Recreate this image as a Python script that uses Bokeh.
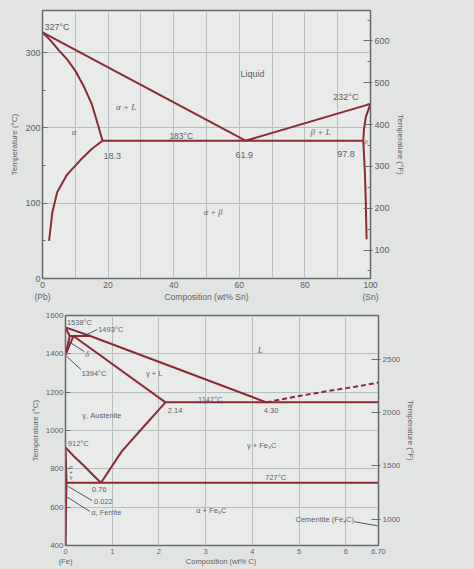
from bokeh.plotting import figure
from bokeh.models import Range1d, LinearAxis, FixedTicker, Label
from bokeh.embed import file_html
from bokeh.resources import INLINE

# ---------------- Pb-Sn diagram data (wt% Sn, deg C) ----------------
pbsn_liq_left_x = [0, 61.9]
pbsn_liq_left_t = [327, 183]
pbsn_liq_right_x = [61.9, 100]
pbsn_liq_right_t = [183, 232]
pbsn_a_solidus_x = [0, 2.5, 5, 7.5, 10, 12.5, 15, 17, 18.3]
pbsn_a_solidus_t = [327, 316, 303, 291, 276, 256, 232, 203, 183]
pbsn_a_solvus_x = [18.3, 15, 11.5, 7.5, 4.5, 3, 2]
pbsn_a_solvus_t = [183, 172, 157, 138, 115, 88, 50]
pbsn_b_solidus_x = [100, 98.6, 98.0, 97.8]
pbsn_b_solidus_t = [232, 215, 198, 183]
pbsn_b_solvus_x = [97.8, 98.3, 98.6, 98.8]
pbsn_b_solvus_t = [183, 140, 95, 52]
pbsn_eut_x = [18.3, 97.8]
pbsn_eut_t = [183, 183]
pbsn_xticks = [0, 20, 40, 60, 80, 100]
pbsn_cticks = [0, 100, 200, 300]
pbsn_fticks = [100, 200, 300, 400, 500, 600]

# ---------------- Fe-Fe3C diagram data (wt% C, deg C) ----------------
fec_liq_x = [0, 0.53, 4.30]
fec_liq_t = [1538, 1493, 1147]
fec_liq_dash_x = [4.30, 5.0, 5.6, 6.2, 6.70]
fec_liq_dash_t = [1147, 1180, 1205, 1228, 1250]
fec_delta_x = [0, 0.09]
fec_delta_t = [1538, 1493]
fec_perit_x = [0.09, 0.53]
fec_perit_t = [1493, 1493]
fec_g_solidus_x = [0.17, 2.14]
fec_g_solidus_t = [1493, 1147]
fec_dg1_x = [0, 0.09]
fec_dg1_t = [1394, 1493]
fec_dg2_x = [0, 0.17]
fec_dg2_t = [1394, 1493]
fec_eut_x = [2.14, 6.70]
fec_eut_t = [1147, 1147]
fec_acm_x = [2.14, 1.6, 1.2, 0.76]
fec_acm_t = [1147, 1000, 890, 727]
fec_a3_x = [0, 0.2, 0.4, 0.6, 0.76]
fec_a3_t = [912, 860, 815, 765, 727]
fec_alpha_x = [0, 0.022]
fec_alpha_t = [912, 727]
fec_a_solvus_x = [0.022, 0.01, 0.003]
fec_a_solvus_t = [727, 600, 400]
fec_eutd_x = [0.022, 6.70]
fec_eutd_t = [727, 727]
fec_xticks = [0, 1, 2, 3, 4, 5, 6, 6.7]
fec_cticks = [400, 600, 800, 1000, 1200, 1400, 1600]
fec_fticks = [1000, 1500, 2000, 2500]

RED = "#8a2a33"
PAGE_BG = "#e2e4e4"
PLOT_BG = "#e9ebeb"
GRID = "#b9bdbd"
FRAME = "#666a6c"
TXT = "#5c5f60"
LEAD = "#4e5560"
SANS = "Liberation Sans"
SERIF = "Liberation Serif"


def c2f(c):
    return c * 1.8 + 32


def style_axis(ax, size):
    ax.axis_line_color = FRAME
    ax.major_tick_line_color = FRAME
    ax.minor_tick_line_color = FRAME
    ax.major_tick_in = 5
    ax.major_tick_out = 0
    ax.minor_tick_in = 3
    ax.minor_tick_out = 0
    ax.major_label_text_font = SANS
    ax.major_label_text_font_size = size
    ax.major_label_text_color = TXT
    ax.major_label_standoff = 2
    ax.axis_label_text_font = SANS
    ax.axis_label_text_font_size = "8px"
    ax.axis_label_text_font_style = "normal"
    ax.axis_label_text_color = TXT
    ax.axis_label_standoff = 3


def lab(p, x, y, text, size="9px", italic=False, serif=False, align="center", color=TXT):
    p.add_layout(Label(x=x, y=y, text=text, text_font=SERIF if serif else SANS,
                       text_font_size=size,
                       text_font_style="italic" if italic else "normal",
                       text_align=align, text_baseline="middle", text_color=color))


def base(p):
    p.background_fill_color = PLOT_BG
    p.border_fill_color = PAGE_BG
    p.outline_line_color = FRAME
    p.outline_line_width = 1.5
    p.grid.grid_line_color = GRID
    p.grid.grid_line_width = 1


# ===================== TOP: Pb-Sn =====================
T_MAX = 356
p1 = figure(width=474, height=304, x_range=Range1d(0, 100), y_range=Range1d(0, T_MAX),
            output_backend="svg", toolbar_location=None,
            min_border_left=42, min_border_right=104, min_border_top=10, min_border_bottom=26)
base(p1)
p1.xgrid.ticker = FixedTicker(ticks=list(range(10, 100, 10)))
p1.ygrid.ticker = FixedTicker(ticks=[100, 200, 300])
xt1 = pbsn_xticks + [50]
p1.xaxis.ticker = FixedTicker(ticks=sorted(xt1))
p1.xaxis.major_label_overrides = {0: "0\n(Pb)", 50: "\nComposition (wt% Sn)", 100: "100\n(Sn)"}
p1.yaxis.ticker = FixedTicker(ticks=pbsn_cticks, minor_ticks=[50, 150, 250])
p1.yaxis.axis_label = "Temperature (°C)"
style_axis(p1.xaxis[0], "8.5px")
style_axis(p1.yaxis[0], "9px")
p1.xaxis.major_tick_in = 0
p1.xaxis.major_label_standoff = 1
p1.extra_y_ranges = {"F": Range1d(c2f(0), c2f(T_MAX))}
ax1r = LinearAxis(y_range_name="F", axis_label="Temperature (°F)",
                  ticker=FixedTicker(ticks=pbsn_fticks, minor_ticks=[50, 150, 250, 350, 450, 550, 650]))
style_axis(ax1r, "9px")
ax1r.major_tick_in = 7
ax1r.major_tick_out = 2
p1.add_layout(ax1r, "right")

for xs, ts in [(pbsn_liq_left_x, pbsn_liq_left_t), (pbsn_liq_right_x, pbsn_liq_right_t),
               (pbsn_a_solidus_x, pbsn_a_solidus_t), (pbsn_a_solvus_x, pbsn_a_solvus_t),
               (pbsn_b_solidus_x, pbsn_b_solidus_t), (pbsn_b_solvus_x, pbsn_b_solvus_t),
               (pbsn_eut_x, pbsn_eut_t)]:
    p1.line(xs, ts, line_color=RED, line_width=2)

lab(p1, 0.6, 334, "327°C", align="left")
lab(p1, 64, 272, "Liquid")
lab(p1, 92.5, 241, "232°C")
lab(p1, 25.5, 228, "α + L", italic=True, serif=True)
lab(p1, 9.6, 195, "α", italic=True, serif=True)
lab(p1, 42.3, 189, "183°C", size="8.5px")
lab(p1, 84.8, 195, "β + L", italic=True, serif=True)
lab(p1, 98.6, 181, "β", size="7px", italic=True, serif=True)
lab(p1, 21.3, 163, "18.3")
lab(p1, 61.5, 164, "61.9")
lab(p1, 92.5, 165, "97.8")
lab(p1, 52, 89, "α + β", size="8.5px", italic=True, serif=True)

# ===================== BOTTOM: Fe-Fe3C =====================
p2 = figure(width=474, height=265, x_range=Range1d(0, 6.7), y_range=Range1d(400, 1600),
            output_backend="svg", toolbar_location=None,
            min_border_left=65, min_border_right=96, min_border_top=11, min_border_bottom=22)
base(p2)
p2.xgrid.ticker = FixedTicker(ticks=[1, 2, 3, 4, 5, 6])
p2.ygrid.ticker = FixedTicker(ticks=[600, 800, 1000, 1200, 1400])
p2.xaxis.ticker = FixedTicker(ticks=sorted(fec_xticks + [3.33]))
p2.xaxis.major_label_overrides = {0: "0\n(Fe)", 3.33: "\nComposition (wt% C)", 6.7: "6.70"}
p2.yaxis.ticker = FixedTicker(ticks=fec_cticks)
p2.yaxis.axis_label = "Temperature (°C)"
style_axis(p2.xaxis[0], "7.5px")
style_axis(p2.yaxis[0], "8px")
p2.xaxis.major_tick_in = 0
p2.xaxis.major_label_standoff = 1
p2.extra_y_ranges = {"F": Range1d(c2f(400), c2f(1600))}
ax2r = LinearAxis(y_range_name="F", axis_label="Temperature (°F)",
                  ticker=FixedTicker(ticks=fec_fticks))
style_axis(ax2r, "8px")
ax2r.major_tick_in = 7
ax2r.major_tick_out = 2
p2.add_layout(ax2r, "right")

for xs, ts in [(fec_liq_x, fec_liq_t), (fec_delta_x, fec_delta_t), (fec_perit_x, fec_perit_t),
               (fec_g_solidus_x, fec_g_solidus_t), (fec_dg1_x, fec_dg1_t), (fec_dg2_x, fec_dg2_t),
               (fec_eut_x, fec_eut_t), (fec_acm_x, fec_acm_t), (fec_a3_x, fec_a3_t),
               (fec_alpha_x, fec_alpha_t), (fec_a_solvus_x, fec_a_solvus_t),
               (fec_eutd_x, fec_eutd_t)]:
    p2.line(xs, ts, line_color=RED, line_width=2)
p2.line(fec_liq_dash_x, fec_liq_dash_t, line_color=RED, line_width=2, line_dash="5 3")

# leader lines
for (x0, y0, x1, y1) in [(0.68, 1527, 0.45, 1500), (0.40, 1412, 0.06, 1465),
                         (0.33, 1318, 0.02, 1388), (0.57, 634, 0.06, 708),
                         (0.52, 578, 0.04, 652), (6.18, 524, 6.68, 503)]:
    p2.line([x0, x1], [y0, y1], line_color=LEAD, line_width=1)

S = "7.5px"
lab(p2, 0.03, 1566, "1538°C", size=S, align="left")
lab(p2, 0.70, 1528, "1493°C", size=S, align="left")
lab(p2, 0.46, 1398, "δ", size="8px", italic=True, serif=True)
lab(p2, 0.34, 1296, "1394°C", size=S, align="left")
lab(p2, 4.17, 1420, "L", size="9px", italic=True, serif=True)
lab(p2, 1.9, 1296, "γ + L", size=S)
lab(p2, 3.1, 1162, "1147°C", size=S)
lab(p2, 2.19, 1102, "2.14", size=S, align="left")
lab(p2, 4.4, 1102, "4.30", size=S)
lab(p2, 0.78, 1080, "γ, Austenite", size=S)
lab(p2, 4.2, 922, "γ + Fe₃C", size=S)
lab(p2, 0.05, 930, "912°C", size=S, align="left")
lab(p2, 0.12, 810, "α", size="6px")
lab(p2, 0.12, 782, "+", size="6px")
lab(p2, 0.12, 756, "γ", size="6px")
lab(p2, 4.5, 757, "727°C", size=S)
lab(p2, 0.72, 690, "0.76", size=S)
lab(p2, 0.61, 627, "0.022", size=S, align="left")
lab(p2, 0.55, 570, "α, Ferrite", size=S, align="left")
lab(p2, 3.12, 585, "α + Fe₃C", size=S)
lab(p2, 5.55, 535, "Cementite (Fe₃C)", size=S)

html = file_html([p1, p2], INLINE)
i = html.rfind("</head>")
if i >= 0:
    html = html[:i] + "<style>html,body{background:%s;}</style>" % PAGE_BG + html[i:]
open("out.html", "w").write(html)
